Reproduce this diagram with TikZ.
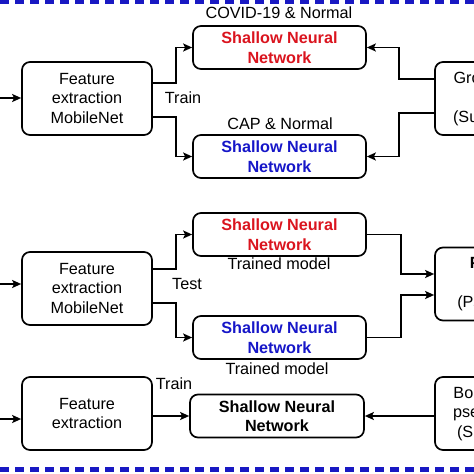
\documentclass[tikz,border=0pt]{standalone}
\usepackage{fontspec}
\setmainfont{Liberation Sans}
\usetikzlibrary{arrows.meta}
\definecolor{nnred}{RGB}{218,20,30}
\definecolor{nnblue}{RGB}{22,22,200}
\definecolor{dashblue}{RGB}{25,25,195}
\begin{document}
\begin{tikzpicture}[x=1pt,y=-1pt, font=\fontsize{16.2}{19.5}\selectfont,
 box/.style={draw, line width=1.7pt, rounded corners=8pt, align=center, inner sep=0pt},
 fbox/.style={box, minimum width=130pt, minimum height=73pt},
 nbox/.style={box, minimum width=173pt, minimum height=43pt, font=\fontsize{16.2}{19.5}\selectfont\bfseries},
 rbox/.style={box, minimum height=73pt},
 arr/.style={line width=1.7pt, -{Stealth[length=9pt,width=8pt,inset=2pt]}},
 sep/.style={dashblue, line width=4.5pt, dash pattern=on 9pt off 6pt},
 lbl/.style={inner sep=0pt}]
\useasboundingbox (0,0) rectangle (474,474);
\clip (0,0) rectangle (474,474);
% separators
\coordinate (t0) at (0,1.5); \coordinate (t1) at (480,1.5);
\coordinate (b0) at (0,469.5); \coordinate (b1) at (480,469.5);
\draw[sep] (t0) -- (t1);
\draw[sep] (b0) -- (b1);
% row 1
\node[fbox] (f1) at (87,98.5) {Feature\\extraction\\MobileNet};
\node[nbox, text=nnred] (s1) at (279.5,47.5) {Shallow Neural\\Network};
\node[nbox, text=nnblue] (s2) at (279.5,156.5) {Shallow Neural\\Network};
\node[rbox, minimum width=128pt] (r1) at (499,98.5) {Ground truth\\\mbox{}\\(Supervised)};
\node[lbl] (l1) at (279,13) {COVID-19 \& Normal};
\node[lbl] (l2) at (280,124) {CAP \& Normal};
\node[lbl] (l3) at (183,98) {Train};
\coordinate (in1) at (-2,98);
\draw[arr] (in1) -- (in1 -| f1.west);
\draw[arr] ([yshift=15.5pt]f1.east) -- ++(23,0) |- (s1.west);
\draw[arr] ([yshift=-18.5pt]f1.east) -- ++(23,0) |- (s2.west);
\draw[arr] ([yshift=19.5pt]r1.west) -- ++(-35,0) |- (s1.east);
\draw[arr] ([yshift=-14.5pt]r1.west) -- ++(-35,0) |- (s2.east);
% row 2
\node[fbox] (f2) at (87,288.5) {Feature\\extraction\\MobileNet};
\node[nbox, text=nnred] (s3) at (279.5,234.5) {Shallow Neural\\Network};
\node[nbox, text=nnblue] (s4) at (279.5,337.5) {Shallow Neural\\Network};
\node[rbox, minimum width=149pt] (r2) at (509.5,284) {\textbf{Prediction}\\\mbox{}\\(Pseudo label)};
\node[lbl] (l4) at (279,264) {Trained model};
\node[lbl] (l5) at (277,368.5) {Trained model};
\node[lbl] (l6) at (187,284) {Test};
\coordinate (in2) at (-2,284);
\draw[arr] (in2) -- (in2 -| f2.west);
\draw[arr] ([yshift=19.5pt]f2.east) -- ++(23,0) |- (s3.west);
\draw[arr] ([yshift=-14.5pt]f2.east) -- ++(23,0) |- (s4.west);
\draw[arr] (s3.east) -- ++(34,0) |- ([yshift=10pt]r2.west);
\draw[arr] (s4.east) -- ++(34,0) |- ([yshift=-11pt]r2.west);
% row 3
\node[fbox] (f3) at (87,413.5) {Feature\\extraction};
\node[nbox, minimum width=174pt] (s5) at (277,416) {Shallow Neural\\Network};
\node[rbox, minimum width=136pt] (r3) at (503,413.5) {Bounding box\\pseudo labels\\(Supervised)};
\node[lbl] (l7) at (174,384) {Train};
\coordinate (in3) at (-2,419);
\draw[arr] (in3) -- (in3 -| f3.west);
\draw[arr] ([yshift=-2.5pt]f3.east) -- (s5.west);
\draw[arr] ([yshift=-2.5pt]r3.west) -- (s5.east);
\end{tikzpicture}
\end{document}
